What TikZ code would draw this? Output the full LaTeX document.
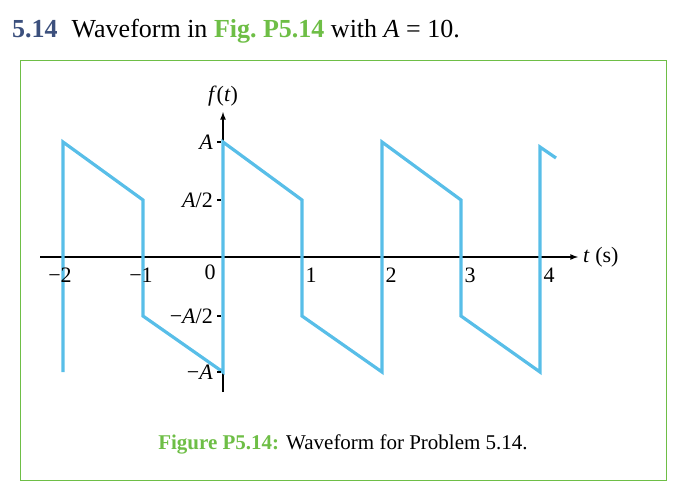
\documentclass[tikz,border=0pt]{standalone}
\usepackage{fontspec}
\setmainfont{Liberation Serif}
\begin{document}
\begin{tikzpicture}[x=1pt,y=-1pt,
  wave/.style={draw=wblue,line width=3.2pt,line join=miter},
  ax/.style={line width=1.6pt,-latex},
  lab/.style={font=\fontsize{22}{24}\selectfont,inner sep=1pt}]
\definecolor{wblue}{RGB}{88,190,232}
\definecolor{fgreen}{RGB}{110,190,70}
\definecolor{nblue}{RGB}{60,80,125}
\useasboundingbox (0,0) rectangle (674,496);
\node[anchor=base west,inner sep=0] (title) at (12,37) {\fontsize{26}{28}\selectfont\textbf{\textcolor{nblue}{5.14}}\hspace{14pt}Waveform in \textcolor{fgreen}{\textbf{Fig.\ P5.14}} with \textit{A} = 10.};
\node[draw=fgreen,line width=1.3pt,minimum width=646,minimum height=420,anchor=north west,inner sep=0] (box) at (20,60) {};
% axes
\coordinate (xl) at (40,257); \coordinate (xr) at (578,257);
\coordinate (yb) at (223,392); \coordinate (yt) at (223,112);
\draw[ax] (xl) -- (xr);
\draw[ax] (yb) -- (yt);
\node[lab,anchor=west] (tl) at (582,257) {\textit{t} (s)};
\node[lab] (fl) at (223,96) {\textit{f}(\textit{t})};
% waveform
\draw[wave] (63,372) -- (63,142) -- (143,200) -- (143,316) -- (223,372) -- (223,142) -- (302,200) -- (302,316) -- (382,372) -- (382,142) -- (461,200) -- (461,316) -- (540,372) -- (540,147) -- (556,158);
% y ticks
\foreach \yy/\tx/\nm in {142/{\textit{A}}/ya,200/{\textit{A}/2}/yh,316/{−\textit{A}/2}/ymh,372/{−\textit{A}}/ym}{
  \draw[line width=1.2pt] (217,\yy) -- (221,\yy);
  \node[lab,anchor=east] (\nm) at (214,\yy) {\tx};
}
% t labels
\node[lab] (t0) at (210,272) {0};
\node[lab] (tm2) at (60,275) {−2};
\node[lab] (tm1) at (141,275) {−1};
\node[lab] (t1) at (311,275) {1};
\node[lab] (t2) at (391,275) {2};
\node[lab] (t3) at (470,275) {3};
\node[lab] (t4) at (549,275) {4};
\node[anchor=base,inner sep=0] (cap) at (343,449) {\fontsize{21}{23}\selectfont\textcolor{fgreen}{\textbf{Figure P5.14:}} Waveform for Problem 5.14.};
\end{tikzpicture}
\end{document}
